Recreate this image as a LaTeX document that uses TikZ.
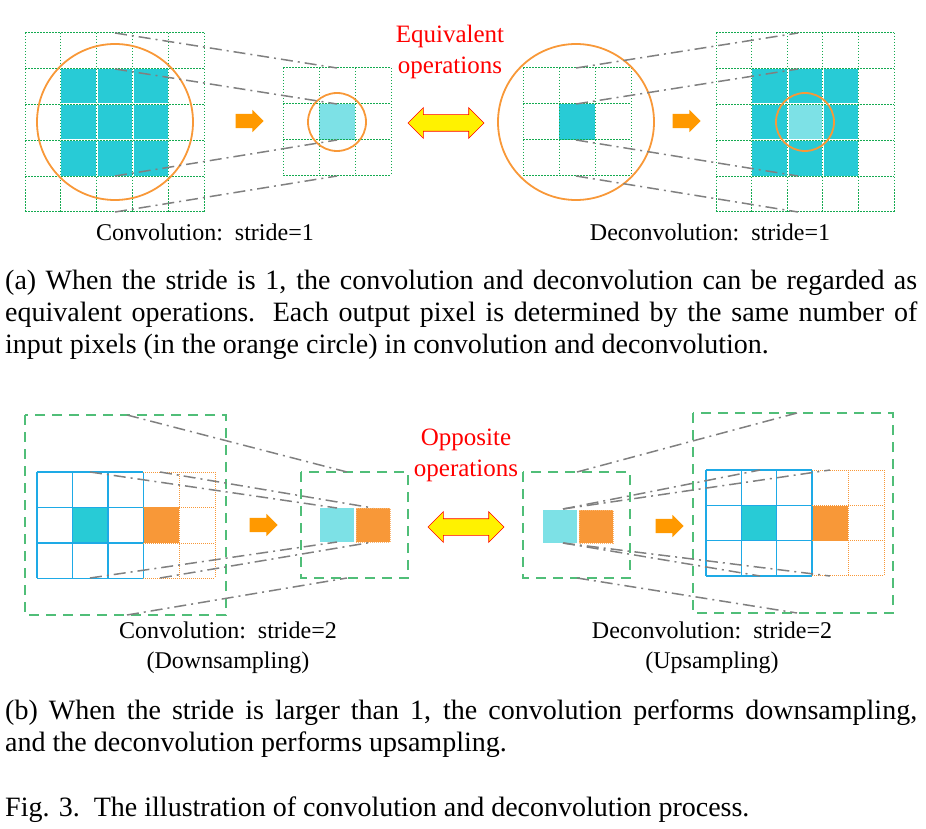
\documentclass[tikz,border=0pt]{standalone}
\usepackage{fontspec}
\setmainfont{Liberation Serif}
\usetikzlibrary{positioning,shapes.arrows}
\definecolor{gridgreen}{RGB}{20,170,80}
\definecolor{boxgreen}{RGB}{80,190,120}
\definecolor{cyanfill}{RGB}{40,203,214}
\definecolor{lightcyan}{RGB}{125,225,230}
\definecolor{ringorange}{RGB}{248,152,56}
\definecolor{bluegrid}{RGB}{30,170,230}
\tikzset{
  pixgrid/.style = {draw=gridgreen, dash pattern=on 1.5pt off 1.5pt, line width=1pt},
  ring/.style = {draw=ringorange, line width=1.8pt},
  proj/.style = {draw=gray, dash pattern=on 12pt off 5pt on 2pt off 5pt, line width=1.5pt},
  frame/.style = {draw=boxgreen, dash pattern=on 10pt off 7pt, line width=1.3pt},
  move/.style = {single arrow, fill=orange!80!yellow, draw=none, inner xsep=0pt, inner ysep=7pt, single arrow head extend=4pt, minimum height=28pt},
  equiv/.style = {double arrow, fill=yellow, draw=red, line width=0.6pt, inner xsep=0pt, inner ysep=8pt, double arrow head extend=7pt, minimum height=76pt},
  redtext/.style = {text=red, font=\fontsize{25}{31}\selectfont, align=center},
  sublabel/.style = {font=\fontsize{24}{30}\selectfont, align=center},
  caption/.style = {font=\fontsize{28}{32}\selectfont, text width=912pt, align=justify, anchor=north west, inner sep=0pt}
}
\begin{document}
\begin{tikzpicture}[x=1pt, y=-1pt]
  \useasboundingbox (0,0) rectangle (926,829);

  % (a) convolution, stride 1
  \fill[cyanfill] (61,69) rectangle (168,176);
  \draw[white, line width=1.2pt] (97,69) -- (97,176) (133,69) -- (133,176) (61,104) -- (168,104) (61,140) -- (168,140);
  \foreach \i in {0,...,5} {
    \draw[pixgrid] (25+35.8*\i,33) -- (25+35.8*\i,212);
    \draw[pixgrid] (25,33+35.8*\i) -- (204,33+35.8*\i);
  }
  \fill[lightcyan] (319,104) rectangle (355,140);
  \foreach \i in {0,...,3} {
    \draw[pixgrid] (283+36*\i,68) -- (283+36*\i,176);
    \draw[pixgrid] (283,68+36*\i) -- (391,68+36*\i);
  }
  \node[ring, circle, minimum size=156pt] (big-in) at (115,122) {};
  \node[ring, circle, minimum size=58pt] (small-out) at (337,122) {};
  \foreach \n/\a/\b in {1/33/68, 2/69/104, 3/176/140, 4/212/176} {
    \coordinate (ca\n) at (115,\a);
    \coordinate (cb\n) at (337,\b);
    \draw[proj] (ca\n) -- (cb\n);
  }
  \node[move] (move-a1) at (246,121) {};

  % (a) deconvolution, stride 1
  \fill[cyanfill] (559,104) rectangle (595,140);
  \foreach \i in {0,...,3} {
    \draw[pixgrid] (523+36*\i,68) -- (523+36*\i,176);
    \draw[pixgrid] (523,68+36*\i) -- (631,68+36*\i);
  }
  \fill[cyanfill] (752,69) rectangle (858,176);
  \fill[lightcyan] (788,104) rectangle (823,140);
  \draw[white, line width=1.2pt] (788,69) -- (788,176) (823,69) -- (823,176) (752,104) -- (858,104) (752,140) -- (858,140);
  \foreach \i in {0,...,5} {
    \draw[pixgrid] (716+35.6*\i,33) -- (716+35.6*\i,212);
    \draw[pixgrid] (716,33+35.8*\i) -- (894,33+35.8*\i);
  }
  \node[ring, circle, minimum size=156pt] (big-dec) at (576,122) {};
  \node[ring, circle, minimum size=58pt] (small-dec) at (805,122) {};
  \foreach \n/\a/\b in {1/68/33, 2/104/69, 3/140/176, 4/176/212} {
    \coordinate (da\n) at (576,\a);
    \coordinate (db\n) at (798,\b);
    \draw[proj] (da\n) -- (db\n);
  }
  \node[move] (move-a2) at (683,121) {};

  \node[equiv] (equal) at (446,123) {};
  \node[redtext] (equal-text) at (450,52) {Equivalent\\operations};
  \node[sublabel] (conv1) at (205,232) {Convolution:\ \ stride=1};
  \node[sublabel] (deconv1) at (710,232) {Deconvolution:\ \ stride=1};
  \node[caption] (cap-a) at (5,270) {(a) When the stride is 1, the convolution and deconvolution can be regarded as\linebreak equivalent operations. Each output pixel is determined by the same number of\linebreak input pixels (in the orange circle) in convolution and deconvolution.};

  % (b) convolution, stride 2
  \draw[frame] (25,415) rectangle (226,615);
  \fill[cyanfill] (72,507) rectangle (108,543);
  \fill[ringorange] (143,507) rectangle (179,543);
  \foreach \i in {0,...,3} {
    \draw[bluegrid, line width=1.5pt] (37+35.5*\i,472) -- (37+35.5*\i,578);
    \draw[bluegrid, line width=1.5pt] (37,472+35.5*\i) -- (143,472+35.5*\i);
  }
  \foreach \i in {1,2} \draw[ringorange, densely dotted, line width=1pt] (143+36*\i,472) -- (143+36*\i,578);
  \foreach \i in {0,...,3} \draw[ringorange, densely dotted, line width=1pt] (143,472+35.5*\i) -- (215,472+35.5*\i);
  \draw[frame] (301,472) rectangle (408,578);
  \fill[lightcyan] (320,508) rectangle (354,542);
  \fill[ringorange] (356,508) rectangle (390,542);
  \draw[ringorange!70!white, densely dotted, line width=1pt] (356,508) rectangle (390,542);
  \foreach \n/\a/\b/\c/\d in {1/127/415/347/472, 2/90/472/337/508, 3/160/472/373/508, 4/90/578/337/542, 5/160/578/373/542, 6/127/615/347/578} {
    \coordinate (ea\n) at (\a,\b);
    \coordinate (eb\n) at (\c,\d);
    \draw[proj] (ea\n) -- (eb\n);
  }
  \node[move] (move-b1) at (260,525) {};

  % (b) deconvolution, stride 2
  \draw[frame] (523,472) rectangle (630,578);
  \fill[lightcyan] (543,510) rectangle (577,543);
  \fill[ringorange] (579,510) rectangle (613,543);
  \draw[ringorange!70!white, densely dotted, line width=1pt] (579,510) rectangle (613,543);
  \draw[frame] (693,413) rectangle (893,613);
  \fill[cyanfill] (741,506) rectangle (776,541);
  \fill[ringorange] (812,506) rectangle (848,541);
  \foreach \i in {0,...,3} {
    \draw[bluegrid, line width=1.5pt] (706+35.3*\i,470) -- (706+35.3*\i,576);
    \draw[bluegrid, line width=1.5pt] (706,470+35.3*\i) -- (812,470+35.3*\i);
  }
  \foreach \i in {1,2} \draw[ringorange, densely dotted, line width=1pt] (812+36*\i,470) -- (812+36*\i,576);
  \foreach \i in {0,...,3} \draw[ringorange, densely dotted, line width=1pt] (812,470+35.3*\i) -- (884,470+35.3*\i);
  \foreach \n/\a/\b/\c/\d in {1/577/472/797/413, 2/563/509/760/470, 3/563/509/830/470, 4/563/543/760/576, 5/563/543/830/576, 6/577/578/797/613} {
    \coordinate (fa\n) at (\a,\b);
    \coordinate (fb\n) at (\c,\d);
    \draw[proj] (fa\n) -- (fb\n);
  }
  \node[move] (move-b2) at (666,526) {};

  \node[equiv] (oppose) at (466,527) {};
  \node[redtext, fill=white, inner sep=2pt] (oppose-text) at (466,455) {Opposite\\operations};
  \node[sublabel] (conv2) at (228,648) {Convolution:\ \ stride=2\\(Downsampling)};
  \node[sublabel] (deconv2) at (712,648) {Deconvolution:\ \ stride=2\\(Upsampling)};
  \node[caption] (cap-b) at (5,700) {(b) When the stride is larger than 1, the convolution performs downsampling,\linebreak and the deconvolution performs upsampling.};
  \node[font=\fontsize{28}{32}\selectfont, anchor=west, inner sep=0pt] (fig) at (5,810) {Fig. 3.\ \ The illustration of convolution and deconvolution process.};
\end{tikzpicture}
\end{document}
